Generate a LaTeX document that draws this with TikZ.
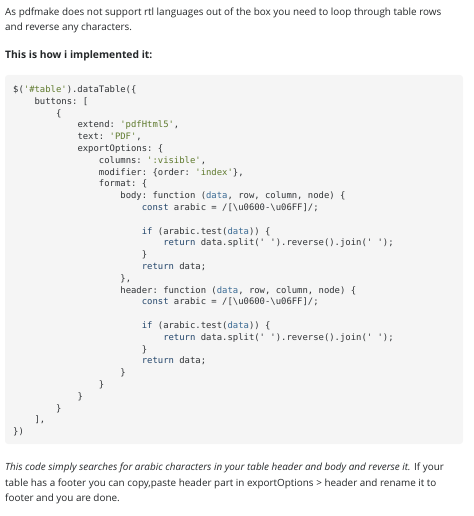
\documentclass[tikz,border=0pt]{standalone}
\usepackage{fontspec}
\setmainfont{Open Sans}
\setmonofont{DejaVu Sans Mono}
\usetikzlibrary{positioning}

\definecolor{pagetext}{HTML}{242729}
\definecolor{codebg}{HTML}{F5F5F5}
\definecolor{codetext}{HTML}{303336}
\definecolor{codestr}{HTML}{5F7A2E}
\definecolor{codekw}{HTML}{24466B}
\definecolor{codevar}{HTML}{3B6B94}

\newcommand{\jsstr}[1]{\textcolor{codestr}{#1}}
\newcommand{\jskw}[1]{\textcolor{codekw}{#1}}
\newcommand{\jsvar}[1]{\textcolor{codevar}{#1}}
\newcommand{\bs}{\textbackslash}

\tikzset{
  prose/.style={anchor=base west, inner sep=0pt, text=pagetext,
    font=\fontsize{9.9bp}{12bp}\selectfont},
  codeline/.style={anchor=base west, inner sep=0pt, text=codetext,
    font=\ttfamily\fontsize{8.9bp}{11.8bp}\selectfont},
}

% one line of the listing: number, indent level, text
\newcommand{\codeat}[3]{%
  \node[codeline] (c#1) at ({\CodeX+#2*4*\CW}, {\CodeY+(#1-1)*\LH}) {#3};}

\begin{document}
\begin{tikzpicture}[x=1bp, y=-1bp]
    \useasboundingbox (0,0) rectangle (474,516);

    \def\CodeX{13}    % left edge of the code
    \def\CodeY{92.5}  % baseline of the first code line
    \def\LH{11.8}     % line height
    \def\CW{5.36}     % width of one code character

    % text above the listing
    \node[prose] (intro1) at (5,16) {As pdfmake does not support rtl languages out of the box you need to loop through table rows};
    \node[prose] (intro2) at (5,31) {and reverse any characters.};
    \node[prose, font=\fontsize{10.3bp}{12bp}\selectfont\bfseries] (howto) at (5,59) {This is how i implemented it:};

    % listing
    \fill[codebg, rounded corners=3bp] (5,75) rectangle (463,444);

    \codeat{1}{0}{\$(\jsstr{'\#table'}).dataTable(\{}
    \codeat{2}{1}{buttons: [}
    \codeat{3}{2}{\{}
    \codeat{4}{3}{extend: \jsstr{'pdfHtml5'},}
    \codeat{5}{3}{text: \jsstr{'PDF'},}
    \codeat{6}{3}{exportOptions: \{}
    \codeat{7}{4}{columns: \jsstr{':visible'},}
    \codeat{8}{4}{modifier: \{order: \jsstr{'index'}\},}
    \codeat{9}{4}{format: \{}
    \codeat{10}{5}{body: function (\jsvar{data}, row, column, node) \{}
    \codeat{11}{6}{\jskw{const} arabic = /[\bs u0600-\bs u06FF]/;}
    \codeat{13}{6}{\jskw{if} (arabic.test(\jsvar{data})) \{}
    \codeat{14}{7}{\jskw{return} data.split(' ').reverse().join(' ');}
    \codeat{15}{6}{\}}
    \codeat{16}{6}{\jskw{return} data;}
    \codeat{17}{5}{\},}
    \codeat{18}{5}{header: function (\jsvar{data}, row, column, node) \{}
    \codeat{19}{6}{\jskw{const} arabic = /[\bs u0600-\bs u06FF]/;}
    \codeat{21}{6}{\jskw{if} (arabic.test(\jsvar{data})) \{}
    \codeat{22}{7}{\jskw{return} data.split(' ').reverse().join(' ');}
    \codeat{23}{6}{\}}
    \codeat{24}{6}{\jskw{return} data;}
    \codeat{25}{5}{\}}
    \codeat{26}{4}{\}}
    \codeat{27}{3}{\}}
    \codeat{28}{2}{\}}
    \codeat{29}{1}{],}
    \codeat{30}{0}{\})}

    % text below the listing
    \node[prose] (outro1) at (5,470) {\textit{This code simply searches for arabic characters in your table header and body and reverse it.} If your};
    \node[prose] (outro2) at (5,486) {table has a footer you can copy,paste header part in exportOptions > header and rename it to};
    \node[prose] (outro3) at (5,501) {footer and you are done.};
\end{tikzpicture}
\end{document}
